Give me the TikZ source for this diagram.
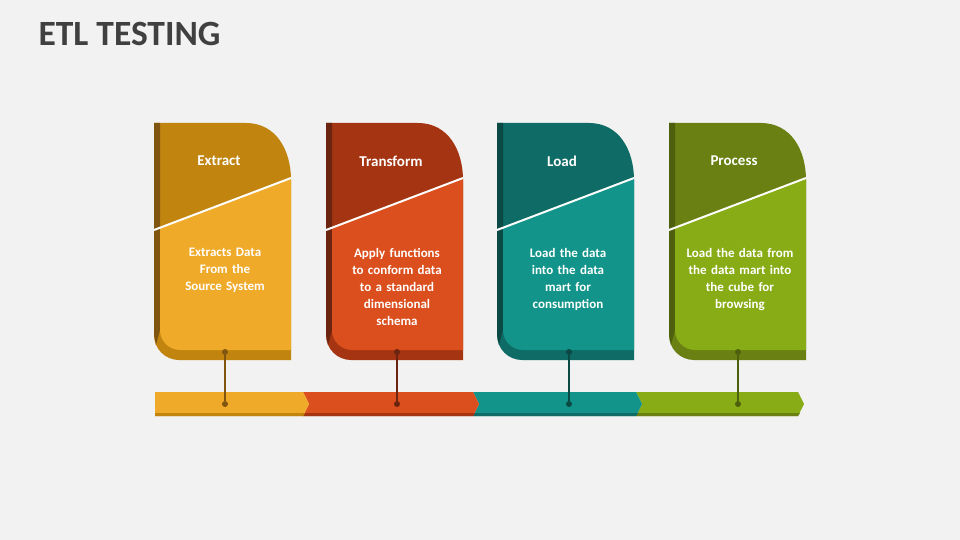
\documentclass[tikz,border=0pt]{standalone}
\usepackage{fontspec}
\setmainfont{Carlito}
\begin{document}
\begin{tikzpicture}[x=1pt,y=-1pt,
  dot/.style={circle,fill,inner sep=0pt,minimum size=6pt},
  ttl/.style={text=white,font=\bfseries\fontsize{15}{17}\selectfont},
  body/.style={text=white,font=\bfseries\fontsize{13}{17}\selectfont,align=center,anchor=north,text width=115pt}]
\useasboundingbox (0,0) rectangle (960,540);
\fill[black!5] (0,0) rectangle (960,540);
\node[anchor=west,text=black!75,font=\bfseries\fontsize{35.5}{38}\selectfont] (title) at (35,34) {ETL TESTING};
\newcommand\card[8]{% x, top, light, dark, name, title, body, dotx
  \fill[#2] (#1,123) -- (#1+92,123) .. controls (#1+122,123) and (#1+137,150) .. (#1+137,180) -- (#1+137,360) -- (#1+25,360) arc[start angle=90,end angle=180,radius=25] -- cycle;
  \fill[#4] (#1,123) -- (#1+6,123) -- (#1+6,330) -- (#1+2,345) -- (#1,335) -- cycle;
  \fill[#3] (#1+6,228) -- (#1+137,178) -- (#1+137,350) -- (#1+26,350) arc[start angle=90,end angle=180,radius=20] -- cycle;
  \draw[white,line width=2pt] (#1,230) -- (#1+137,178);
  \node[ttl] (#5t) at (#1+65,161) {#6};
  \node[body] (#5b) at (#1+71,245) {#7};
  \node[dot,#4] (#5d1) at (#8,352) {};
  \node[dot,#4] (#5d2) at (#8,404) {};
}
\definecolor{e1}{HTML}{C1850F}\definecolor{e2}{HTML}{EFAA2A}\definecolor{e3}{HTML}{7F5510}
\definecolor{t1}{HTML}{A53512}\definecolor{t2}{HTML}{DB4E1D}\definecolor{t3}{HTML}{6B2410}
\definecolor{l1}{HTML}{0E6B65}\definecolor{l2}{HTML}{12948A}\definecolor{l3}{HTML}{0A4944}
\definecolor{p1}{HTML}{6A8013}\definecolor{p2}{HTML}{88AC16}\definecolor{p3}{HTML}{4E600D}
% bar
\fill[p2] (636,392) -- (798,392) -- (804,404) -- (798,416) -- (636,416) -- (642,404) -- cycle;
\fill[p1] (636,413) -- (800,413) -- (798,416) -- (636,416) -- cycle;
\fill[l2] (473,392) -- (636,392) -- (642,404) -- (636,416) -- (473,416) -- (479,404) -- cycle;
\fill[l1] (473,413) -- (638,413) -- (636,416) -- (473,416) -- cycle;
\fill[t2] (303,392) -- (473,392) -- (479,404) -- (473,416) -- (303,416) -- (309,404) -- cycle;
\fill[t1] (303,413) -- (475,413) -- (473,416) -- (303,416) -- cycle;
\fill[e2] (155,392) -- (303,392) -- (309,404) -- (303,416) -- (155,416) -- cycle;
\fill[e1] (155,413) -- (305,413) -- (303,416) -- (155,416) -- cycle;
\card{154}{e1}{e2}{e3}{a}{Extract}{Extracts Data\\From the\\Source System}{225}
\card{326}{t1}{t2}{t3}{b}{Transform}{Apply functions\\to conform data\\to a standard\\dimensional\\schema}{397}
\card{497}{l1}{l2}{l3}{c}{Load}{Load the data\\into the data\\mart for\\consumption}{569}
\card{669}{p1}{p2}{p3}{d}{Process}{Load the data from\\the data mart into\\the cube for\\browsing}{738}
\draw[e3,line width=1.5pt] (ad1) -- (ad2);
\draw[t3,line width=1.5pt] (bd1) -- (bd2);
\draw[l3,line width=1.5pt] (cd1) -- (cd2);
\draw[p3,line width=1.5pt] (dd1) -- (dd2);
\end{tikzpicture}
\end{document}
